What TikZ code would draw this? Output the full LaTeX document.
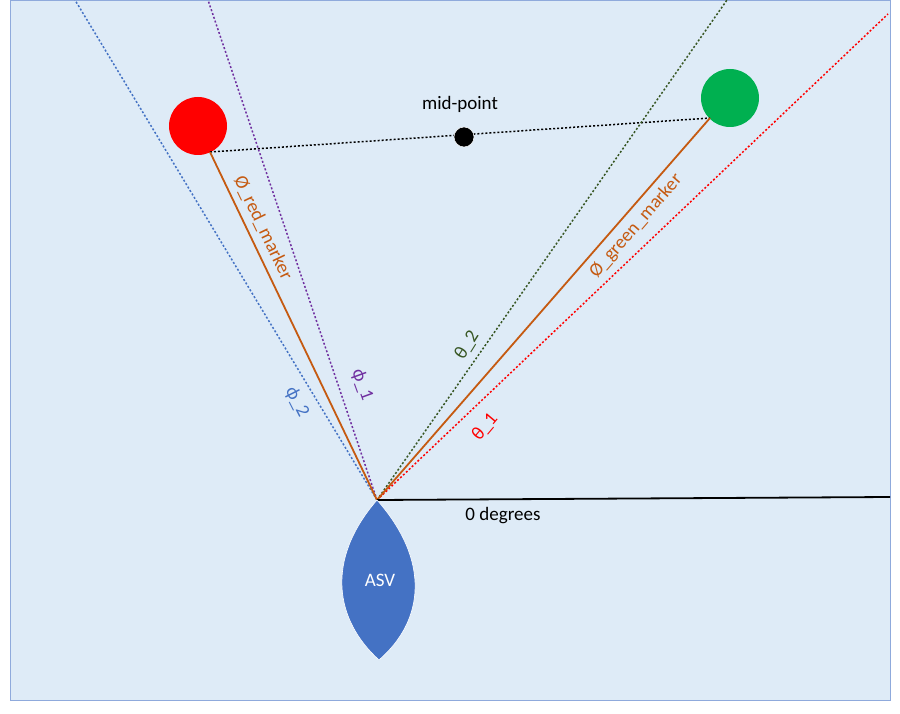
\documentclass[tikz,border=0pt]{standalone}
\usepackage{fontspec}
\setmainfont{Carlito}
\begin{document}
\begin{tikzpicture}[x=1pt,y=-1pt,
  dot/.style={line width=1.5pt,dash pattern=on 2pt off 2pt},
  lbl/.style={font=\fontsize{19}{22}\selectfont,inner sep=1pt}]
\useasboundingbox (0,0) rectangle (900,714);
\definecolor{bg}{HTML}{DEEBF7}
\definecolor{bd}{HTML}{8FAADC}
\definecolor{org}{HTML}{C55A11}
\definecolor{asv}{HTML}{4472C4}
\definecolor{dg}{HTML}{375623}
\definecolor{pu}{HTML}{7030A0}
\definecolor{gr}{HTML}{00B050}
\fill[bg,draw=bd] (10,0) rectangle (890,700);
\coordinate (apex) at (377,500);
\coordinate (tip) at (379,660);
\coordinate (e0) at (890,497);
\coordinate (bl) at (75,0);
\coordinate (pl) at (208,0);
\coordinate (gl) at (727,0);
\coordinate (rl) at (888,14);
\coordinate (rm) at (210,152);
\coordinate (gm) at (710,118);
\node[circle,fill=red,minimum size=58pt,inner sep=0] (red) at (198,126) {};
\node[circle,fill=gr,minimum size=58pt,inner sep=0] (green) at (730,98) {};
\draw[dot,black] (rm) -- (gm);
\node[circle,fill=black,draw=white,line width=0.5pt,minimum size=20pt,inner sep=0] (mid) at (464,137) {};
\node[lbl] (midl) at (460,104) {mid-point};
\draw[dot,asv] (apex) -- (bl);
\draw[dot,pu] (apex) -- (pl);
\draw[dot,dg] (apex) -- (gl);
\draw[dot,red] (apex) -- (rl);
\draw[org,line width=1.8pt] (apex) -- (rm);
\draw[org,line width=1.8pt] (apex) -- (gm);
\draw[black,line width=1.8pt] (apex) -- (e0);
\fill[asv,draw=white,line width=0.6pt] (apex) .. controls (325,560) and (335,620) .. (tip)
  .. controls (425,620) and (430,560) .. (apex);
\node[lbl,text=white] (asvl) at (380,580) {ASV};
\node[lbl] (deg) at (503,516) {0 degrees};
\node[lbl,text=org,rotate=-64.4] (rml) at (263,228) {Ø\_red\_marker};
\node[lbl,text=org,rotate=48.9] (gml) at (636,226) {Ø\_green\_marker};
\node[lbl,text=pu,rotate=-70] (p1) at (362,385) {ϕ\_1};
\node[lbl,text=asv,rotate=-63] (p2) at (297,402) {ϕ\_2};
\node[lbl,text=dg,rotate=58] (t2) at (467,345) {θ\_2};
\node[lbl,text=red,rotate=50] (t1) at (485,427) {θ\_1};
\end{tikzpicture}
\end{document}
